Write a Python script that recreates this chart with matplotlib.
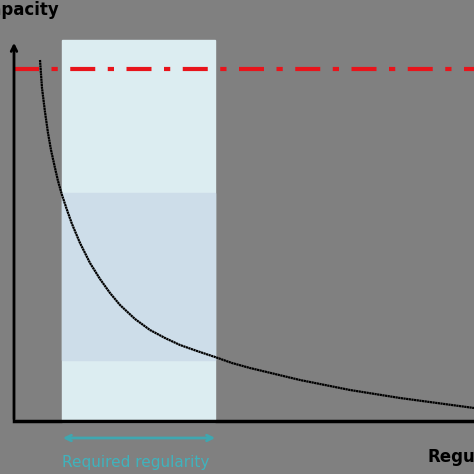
import matplotlib
matplotlib.use("Agg")
import matplotlib.pyplot as plt

curve_x = [40, 42, 45, 48, 51, 55, 58, 62, 67, 72, 80, 90, 100, 110, 120, 135, 150, 165, 180, 197, 215, 232, 250, 275, 300, 325, 350, 375, 400, 437, 474]
curve_y = [60, 88, 112, 133, 150, 168, 181, 195, 210, 224, 243, 263, 279, 293, 305, 319, 330, 338, 345, 351, 357, 363, 368, 374, 380, 385, 390, 394, 398, 403, 408]
capacity_level = 69
region_x = [62, 215]
band_y = [193, 360]

fig = plt.figure(figsize=(4.74, 4.74), dpi=100)
fig.patch.set_facecolor('#808080')
ax = fig.add_axes([0, 0, 1, 1])
ax.set_facecolor('#808080')
ax.set_xlim(0, 474); ax.set_ylim(474, 0); ax.axis('off')

ax.add_patch(plt.Rectangle((region_x[0], 40), region_x[1]-region_x[0], 382, color='#dcedf1', zorder=1))
ax.add_patch(plt.Rectangle((region_x[0], band_y[0]), region_x[1]-region_x[0], band_y[1]-band_y[0], color='#cddde9', zorder=1))
ax.axhline(capacity_level, xmin=14/474, color='#e8141b', lw=3, ls=(0, (6, 3, 1.5, 3)), zorder=2)
ax.plot(curve_x, curve_y, color='black', lw=1.6, ls=(0, (1, 0.2)), zorder=3)
ax.annotate('', xy=(14, 40), xytext=(14, 422), arrowprops=dict(arrowstyle='->', lw=2, color='black'), zorder=4)
ax.plot([14, 474], [421, 421], color='black', lw=2.5, zorder=4)
ax.annotate('', xy=(60, 438), xytext=(218, 438), arrowprops=dict(arrowstyle='<->', lw=2, color='#3fa7b0'))
ax.text(62, 463, 'Required regularity', color='#3fb3bd', fontsize=11, ha='left', va='center')
ax.text(-22, 10, 'Capacity', color='black', fontsize=12, fontweight='bold', ha='left', va='center')
ax.text(428, 457, 'Regularity', color='black', fontsize=12, fontweight='bold', ha='left', va='center')
fig.savefig('out.png', dpi=100, facecolor=fig.get_facecolor())
